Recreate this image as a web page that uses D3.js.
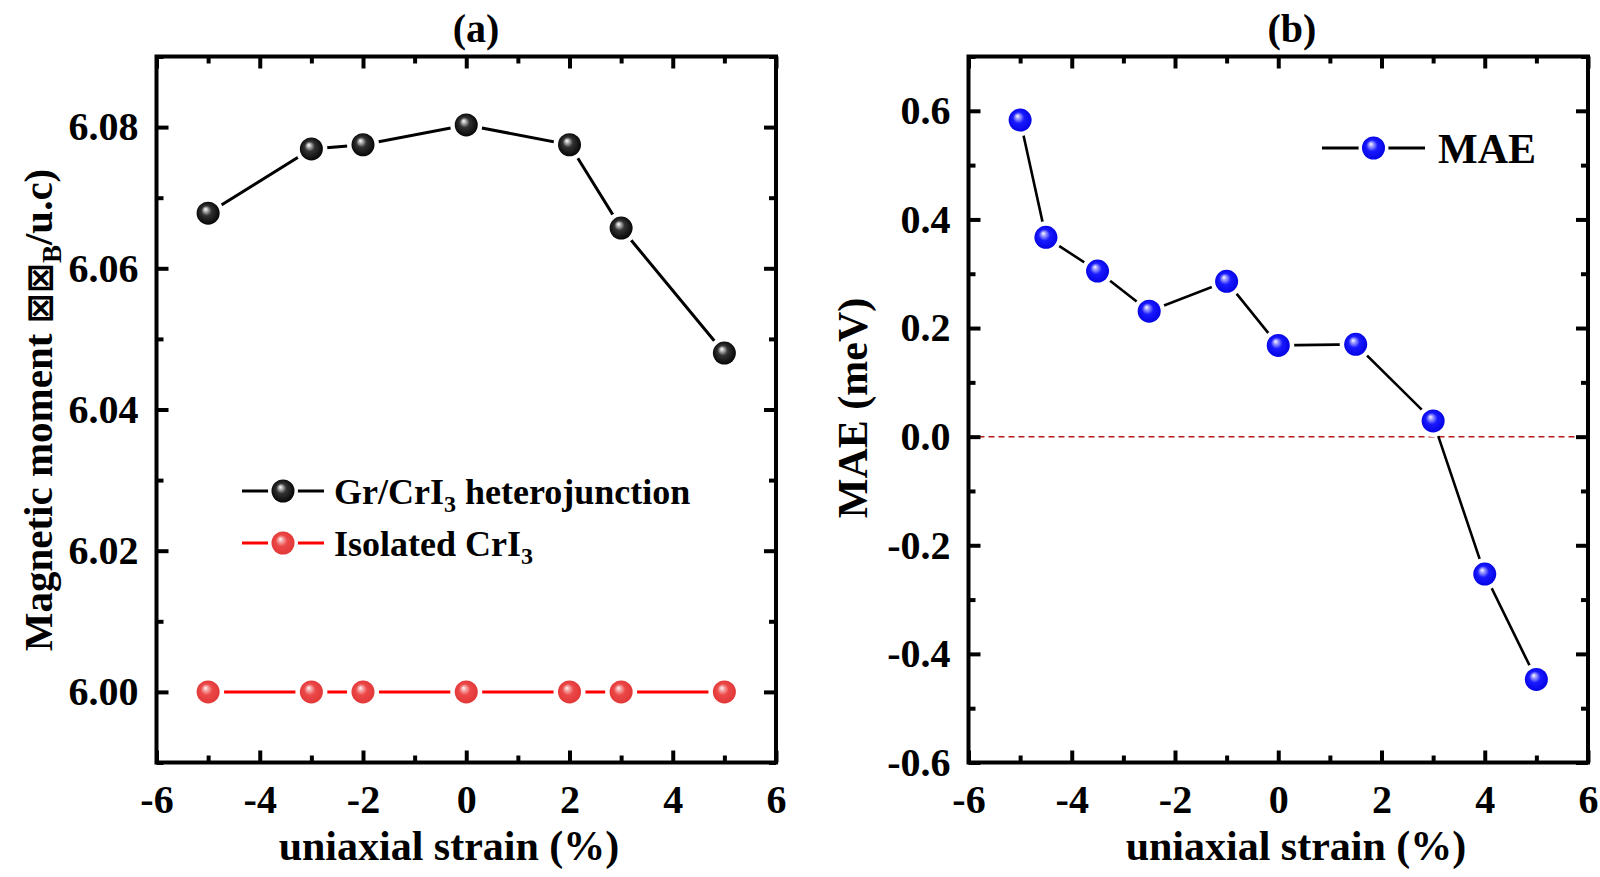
<!DOCTYPE html>
<html>
<head>
<meta charset="utf-8">
<script src="https://cdn.jsdelivr.net/npm/d3@7"></script>
<style>
  body { margin: 0; background: #fff; }
  svg text { font-family: "Liberation Serif", "Times New Roman", serif; font-weight: bold; fill: #000; }
</style>
</head>
<body>
<div class="chart-container"></div>
<script>
// data
const strain_a = [-5, -3, -2, 0, 2, 3, 5];
const hetero_moment = [6.0678, 6.0769, 6.0775, 6.0803, 6.0775, 6.0657, 6.048];
const isolated_moment = [6.00, 6.00, 6.00, 6.00, 6.00, 6.00, 6.00];

const strain_b = [-5, -4.5, -3.5, -2.5, -1, 0, 1.5, 3, 4, 5];
const mae_values = [0.583, 0.367, 0.305, 0.231, 0.286, 0.168, 0.170, 0.029, -0.253, -0.447];

const x_ticks = [-6, -4, -2, 0, 2, 4, 6];
const x_minor = [-5, -3, -1, 1, 3, 5];
const y_ticks_a = [6.00, 6.02, 6.04, 6.06, 6.08];
const y_minor_a = [5.99, 6.01, 6.03, 6.05, 6.07, 6.09];
const y_ticks_b = [-0.6, -0.4, -0.2, 0.0, 0.2, 0.4, 0.6];
const y_minor_b = [-0.5, -0.3, -0.1, 0.1, 0.3, 0.5, 0.7];

const svg_width = 1600;
const svg_height = 877;

// plain hyphen for negatives, like the figure
const hyphen = f => d => f(d).replace('\u2212', '-');

const svg = d3.select('.chart-container')
    .append('svg')
    .attr('width', svg_width)
    .attr('height', svg_height)
    .style('display', 'block');

svg.append('rect').attr('width', svg_width).attr('height', svg_height).attr('fill', '#fff');

// sphere-like marker gradients
const defs = svg.append('defs');
function add_ball(id, stops){
    const g = defs.append('radialGradient')
        .attr('id', id)
        .attr('cx', '50%').attr('cy', '50%').attr('r', '55%')
        .attr('fx', '38%').attr('fy', '32%');
    stops.forEach(s => g.append('stop').attr('offset', s[0]).attr('stop-color', s[1]));
}
add_ball('ball-black', [[0, '#ffffff'], [0.12, '#c8c8c8'], [0.4, '#333'], [1, '#000']]);
add_ball('ball-red', [[0, '#ffffff'], [0.14, '#f8b8b8'], [0.45, '#ec4848'], [1, '#e03535']]);
add_ball('ball-blue', [[0, '#ffffff'], [0.14, '#b0b0ff'], [0.45, '#1a1aff'], [1, '#0000e0']]);

const ball_r = 11.5;
const gap_r = 16;

function draw_series(g, xs, ys, x_scale, y_scale, line_color, line_width, ball_id){
    const pts = xs.map((x, i) => [x, ys[i]]);
    const line = d3.line().x(d => x_scale(d[0])).y(d => y_scale(d[1]));
    g.append('path')
        .datum(pts)
        .attr('d', line)
        .attr('fill', 'none')
        .attr('stroke', line_color)
        .attr('stroke-width', line_width);
    // white halo so the line stops short of the marker
    g.selectAll(null).data(pts).enter()
        .append('circle')
        .attr('cx', d => x_scale(d[0]))
        .attr('cy', d => y_scale(d[1]))
        .attr('r', gap_r)
        .attr('fill', '#fff');
    g.selectAll(null).data(pts).enter()
        .append('circle')
        .attr('cx', d => x_scale(d[0]))
        .attr('cy', d => y_scale(d[1]))
        .attr('r', ball_r)
        .attr('fill', `url(#${ball_id})`);
}

function legend_item(g, x, y, len, line_color, ball_id, label_fn, font_size, text_x){
    const item = g.append('g').attr('transform', `translate(${x}, ${y})`);
    item.append('line')
        .attr('x1', 0).attr('x2', len)
        .attr('y1', 0).attr('y2', 0)
        .attr('stroke', line_color)
        .attr('stroke-width', 3);
    item.append('circle').attr('cx', len / 2).attr('r', gap_r - 1).attr('fill', '#fff');
    item.append('circle').attr('cx', len / 2).attr('r', ball_r).attr('fill', `url(#${ball_id})`);
    const t = item.append('text')
        .attr('x', text_x)
        .attr('y', 0)
        .attr('dy', '0.35em')
        .style('font-size', `${font_size}px`);
    label_fn(t);
}

function draw_frame_axes(g, x_scale, y_scale, y_major, y_minor, y_fmt){
    const [x0, x1] = x_scale.range();
    const [y1, y0] = y_scale.range();
    const major_len = 12;
    const minor_len = 7;

    const style_ticks = sel => {
        sel.select('.domain').remove();
        sel.selectAll('.tick line').attr('stroke', '#000').attr('stroke-width', 4);
        sel.selectAll('.tick text').style('font-size', '40px');
    };

    // bottom
    g.append('g').attr('transform', `translate(0, ${y1})`)
        .call(d3.axisBottom(x_scale).tickValues(x_ticks).tickFormat(hyphen(d3.format('d')))
            .tickSizeInner(-major_len).tickSizeOuter(0).tickPadding(22))
        .call(style_ticks);
    g.append('g').attr('transform', `translate(0, ${y1})`)
        .call(d3.axisBottom(x_scale).tickValues(x_minor).tickFormat('')
            .tickSizeInner(-minor_len).tickSizeOuter(0))
        .call(style_ticks);
    // top
    g.append('g').attr('transform', `translate(0, ${y0})`)
        .call(d3.axisTop(x_scale).tickValues(x_ticks).tickFormat('')
            .tickSizeInner(-major_len).tickSizeOuter(0))
        .call(style_ticks);
    g.append('g').attr('transform', `translate(0, ${y0})`)
        .call(d3.axisTop(x_scale).tickValues(x_minor).tickFormat('')
            .tickSizeInner(-minor_len).tickSizeOuter(0))
        .call(style_ticks);
    // left
    g.append('g').attr('transform', `translate(${x0}, 0)`)
        .call(d3.axisLeft(y_scale).tickValues(y_major).tickFormat(hyphen(y_fmt))
            .tickSizeInner(-major_len).tickSizeOuter(0).tickPadding(18))
        .call(style_ticks);
    g.append('g').attr('transform', `translate(${x0}, 0)`)
        .call(d3.axisLeft(y_scale).tickValues(y_minor).tickFormat('')
            .tickSizeInner(-minor_len).tickSizeOuter(0))
        .call(style_ticks);
    // right
    g.append('g').attr('transform', `translate(${x1}, 0)`)
        .call(d3.axisRight(y_scale).tickValues(y_major).tickFormat('')
            .tickSizeInner(-major_len).tickSizeOuter(0))
        .call(style_ticks);
    g.append('g').attr('transform', `translate(${x1}, 0)`)
        .call(d3.axisRight(y_scale).tickValues(y_minor).tickFormat('')
            .tickSizeInner(-minor_len).tickSizeOuter(0))
        .call(style_ticks);

    g.append('rect')
        .attr('x', x0).attr('y', y0)
        .attr('width', x1 - x0).attr('height', y1 - y0)
        .attr('fill', 'none')
        .attr('stroke', '#000')
        .attr('stroke-width', 4);
}

// ---------- panel (a) ----------
const a_left = 156.5, a_right = 776, plot_top = 56.5, plot_bottom = 762.5;
const xa = d3.scaleLinear().domain([-6, 6]).range([a_left, a_right]);
const ya = d3.scaleLinear().domain([5.99, 6.09]).range([plot_bottom, plot_top]);

const pa = svg.append('g').attr('class', 'panel-a');
draw_series(pa, strain_a, hetero_moment, xa, ya, '#000', 3, 'ball-black');
draw_series(pa, strain_a, isolated_moment, xa, ya, '#ff0000', 3, 'ball-red');
draw_frame_axes(pa, xa, ya, y_ticks_a, y_minor_a, d3.format('.2f'));

legend_item(pa, 242, 491, 82, '#000', 'ball-black', t => {
    t.append('tspan').text('Gr/CrI');
    t.append('tspan').text('3').attr('dy', '8').style('font-size', '24px');
    t.append('tspan').text(' heterojunction').attr('dy', '-8');
}, 36, 92);
legend_item(pa, 242, 543, 82, '#ff0000', 'ball-red', t => {
    t.append('tspan').text('Isolated CrI');
    t.append('tspan').text('3').attr('dy', '8').style('font-size', '24px');
}, 36, 92);

pa.append('text')
    .attr('x', 476).attr('y', 42)
    .attr('text-anchor', 'middle')
    .style('font-size', '40px')
    .text('(a)');
pa.append('text')
    .attr('x', 449).attr('y', 860)
    .attr('text-anchor', 'middle')
    .style('font-size', '42px')
    .text('uniaxial strain (%)');
const ylab_a = pa.append('text')
    .attr('transform', `translate(52, 410) rotate(-90)`)
    .attr('text-anchor', 'middle')
    .style('font-size', '41px');
ylab_a.append('tspan').text('Magnetic moment ');
ylab_a.append('tspan').text('⊠⊠').style('font-family', '"DejaVu Sans"').style('font-weight', 'bold').style('font-size', '36px');
ylab_a.append('tspan').text('B').attr('dy', '9').style('font-size', '27px');
ylab_a.append('tspan').text('/u.c)').attr('dy', '-9');

// ---------- panel (b) ----------
const b_left = 968.5, b_right = 1588;
const xb = d3.scaleLinear().domain([-6, 6]).range([b_left, b_right]);
const yb = d3.scaleLinear().domain([-0.6, 0.7]).range([plot_bottom, plot_top]);

const pb = svg.append('g').attr('class', 'panel-b');
pb.append('line')
    .attr('x1', b_left).attr('x2', b_right)
    .attr('y1', yb(0)).attr('y2', yb(0))
    .attr('stroke', '#b81c1c')
    .attr('stroke-width', 1.5)
    .attr('stroke-dasharray', '6,4');
draw_series(pb, strain_b, mae_values, xb, yb, '#000', 2.6, 'ball-blue');
draw_frame_axes(pb, xb, yb, y_ticks_b, y_minor_b, d3.format('.1f'));

legend_item(pb, 1322, 148, 103, '#000', 'ball-blue', t => t.text('MAE'), 42, 116);

pb.append('text')
    .attr('x', 1292).attr('y', 42)
    .attr('text-anchor', 'middle')
    .style('font-size', '40px')
    .text('(b)');
pb.append('text')
    .attr('x', 1296).attr('y', 860)
    .attr('text-anchor', 'middle')
    .style('font-size', '42px')
    .text('uniaxial strain (%)');
pb.append('text')
    .attr('transform', `translate(867, 408) rotate(-90)`)
    .attr('text-anchor', 'middle')
    .style('font-size', '42px')
    .text('MAE (meV)');
</script>
</body>
</html>
